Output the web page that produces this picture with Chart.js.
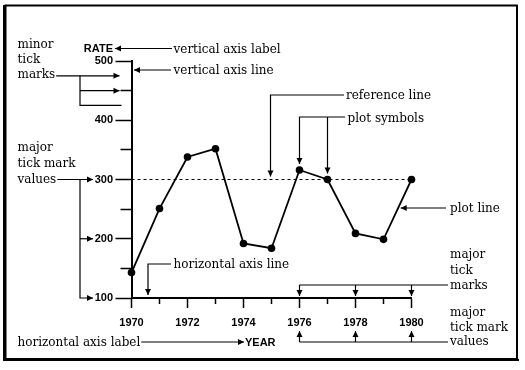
<!DOCTYPE html>
<html>
<head>
<meta charset="utf-8">
<title>parts of a graph</title>
<script src="https://cdn.jsdelivr.net/npm/chart.js@4.4.0/dist/chart.umd.min.js"></script>
<style>
  body { margin: 0; background: #fff; }
</style>
</head>
<body>
<canvas id="myChart" width="525" height="370"></canvas>
<script>
// data
var years = [1970, 1971, 1972, 1973, 1974, 1975, 1976, 1977, 1978, 1979, 1980];
var rates = [143, 251, 338, 352, 192, 184, 316, 300, 209, 199, 300];
var refValue = 300;
var yMajor = [100, 200, 300, 400, 500];
var xMajor = [1970, 1972, 1974, 1976, 1978, 1980];

var serif = '12px "DejaVu Serif"';
var boldSans = 'bold 11px "Liberation Sans"';

function arrowTo(c, pts, head) {
  c.beginPath();
  c.moveTo(pts[0][0], pts[0][1]);
  for (var i = 1; i < pts.length; i++) c.lineTo(pts[i][0], pts[i][1]);
  c.stroke();
  if (!head) return;
  var a = pts[pts.length - 2], b = pts[pts.length - 1];
  var ang = Math.atan2(b[1] - a[1], b[0] - a[0]);
  c.beginPath();
  c.moveTo(b[0], b[1]);
  c.lineTo(b[0] - 6 * Math.cos(ang) + 3 * Math.sin(ang), b[1] - 6 * Math.sin(ang) - 3 * Math.cos(ang));
  c.lineTo(b[0] - 6 * Math.cos(ang) - 3 * Math.sin(ang), b[1] - 6 * Math.sin(ang) + 3 * Math.cos(ang));
  c.closePath();
  c.fill();
}

function txt(c, s, x, y) {
  c.fillText(s, x, y);
  return x + c.measureText(s).width;
}

var annotate = {
  id: 'annotate',
  afterDraw: function(chart) {
    var c = chart.ctx, xs = chart.scales.x, ys = chart.scales.y;
    var X = function(v) { return xs.getPixelForValue(v); };
    var Y = function(v) { return ys.getPixelForValue(v); };
    c.save();
    c.strokeStyle = '#000';
    c.fillStyle = '#000';

    // frame
    c.lineWidth = 2;
    c.strokeRect(5.5, 5.5, 511.5, 353.5);
    c.fillRect(3, 5, 2, 356);
    c.fillRect(3, 359, 516, 2);

    c.lineWidth = 1.2;
    c.font = serif;
    c.textAlign = 'left';
    c.textBaseline = 'alphabetic';

    // minor tick marks
    txt(c, 'minor', 17.5, 47.5);
    txt(c, 'tick', 17.5, 62.5);
    var e = txt(c, 'marks', 17.5, 77.5);
    arrowTo(c, [[e + 1, Y(475)], [X(1970) - 12, Y(475)]], true);
    arrowTo(c, [[80, Y(475)], [80, Y(425)], [X(1970) - 10, Y(425)]], false);
    arrowTo(c, [[80, Y(450)], [X(1970) - 12, Y(450)]], true);

    // major tick mark values (left)
    txt(c, 'major', 17.5, 151);
    txt(c, 'tick mark', 17.5, 167);
    e = txt(c, 'values', 17.5, 183);
    arrowTo(c, [[e + 1, Y(300)], [93, Y(300)]], true);
    arrowTo(c, [[80, Y(300)], [80, Y(100)], [93, Y(100)]], true);
    arrowTo(c, [[80, Y(200)], [93, Y(200)]], true);

    // vertical axis label / line
    c.font = boldSans;
    c.textAlign = 'right';
    c.fillText('RATE', 113, 52);
    c.textAlign = 'left';
    c.font = serif;
    arrowTo(c, [[172, 48.5], [115, 48.5]], true);
    txt(c, 'vertical axis label', 173.5, 52.5);
    arrowTo(c, [[171, 70], [X(1970) + 2.5, 70]], true);
    txt(c, 'vertical axis line', 173.5, 74);

    // reference line
    txt(c, 'reference line', 346, 99);
    arrowTo(c, [[344, 95], [X(1975) - 1, 95], [X(1975) - 1, Y(refValue) - 3]], true);

    // plot symbols
    txt(c, 'plot symbols', 347.5, 121.5);
    arrowTo(c, [[345, 117], [X(1976), 117], [X(1976), Y(rates[6]) - 6]], true);
    arrowTo(c, [[X(1977), 117], [X(1977), Y(rates[7]) - 6]], true);

    // plot line
    var x1 = X(years[9]), y1 = Y(rates[9]), x2 = X(years[10]), y2 = Y(rates[10]);
    var t = (208 - y1) / (y2 - y1);
    txt(c, 'plot line', 450, 211.5);
    arrowTo(c, [[446, 208], [x1 + t * (x2 - x1) + 2.5, 208]], true);

    // major tick marks (right)
    txt(c, 'major', 450, 257.5);
    txt(c, 'tick', 450, 273.5);
    txt(c, 'marks', 450, 289);
    arrowTo(c, [[448, 285], [X(1976), 285]], false);
    [1976, 1978, 1980].forEach(function(v) {
      arrowTo(c, [[X(v), 285], [X(v), Y(100) - 2]], true);
    });

    // major tick mark values (right)
    txt(c, 'major', 450, 315.5);
    txt(c, 'tick mark', 450, 331);
    txt(c, 'values', 450, 345);
    arrowTo(c, [[448, 342], [X(1976), 342]], false);
    [1976, 1978, 1980].forEach(function(v) {
      arrowTo(c, [[X(v), 342], [X(v), 331]], true);
    });

    // horizontal axis line / label
    txt(c, 'horizontal axis line', 173.5, 268);
    arrowTo(c, [[171, 264], [148, 264], [148, Y(100) - 3]], true);
    e = txt(c, 'horizontal axis label', 17.5, 346);
    arrowTo(c, [[e + 1, 342], [244, 342]], true);
    c.font = boldSans;
    txt(c, 'YEAR', 245, 346);

    c.restore();
  }
};

var ctx = document.getElementById('myChart').getContext('2d');
var chart = new Chart(ctx, {
  type: 'line',
  data: {
    datasets: [
      {
        label: 'RATE',
        data: years.map(function(y, i) { return {x: y, y: rates[i]}; }),
        borderColor: '#000',
        borderWidth: 1.8,
        pointRadius: 3.8,
        pointBackgroundColor: '#000',
        pointBorderWidth: 0,
        tension: 0,
        clip: false
      },
      {
        label: 'reference',
        data: [{x: years[0], y: refValue}, {x: years[years.length - 1], y: refValue}],
        borderColor: '#000',
        borderWidth: 1,
        borderDash: [3, 3],
        pointRadius: 0
      }
    ]
  },
  options: {
    responsive: false,
    animation: false,
    devicePixelRatio: 1,
    layout: { padding: { left: 71.5, right: 113.5, top: 61, bottom: 20 } },
    plugins: { legend: { display: false }, tooltip: { enabled: false } },
    scales: {
      x: {
        type: 'linear',
        min: 1970,
        max: 1980,
        afterFit: function(s) { s.height = 52; },
        ticks: {
          stepSize: 1,
          autoSkip: false,
          maxRotation: 0,
          padding: 8,
          color: '#000',
          font: { family: 'Liberation Sans', size: 11, weight: 'bold' },
          callback: function(v) { return xMajor.indexOf(v) >= 0 ? String(v) : ''; }
        },
        grid: {
          drawOnChartArea: false,
          tickLength: 10,
          tickColor: '#000',
          tickWidth: 1.5,
          tickBorderDash: function(c) { return c.tick && xMajor.indexOf(c.tick.value) >= 0 ? [] : [5, 50]; }
        },
        border: { color: '#000', width: 2 }
      },
      y: {
        min: 100,
        max: 500,
        afterFit: function(s) { s.width = 60; },
        ticks: {
          stepSize: 25,
          padding: 2.5,
          color: '#000',
          font: { family: 'Liberation Sans', size: 11, weight: 'bold' },
          callback: function(v) { return yMajor.indexOf(v) >= 0 ? String(v) : ''; }
        },
        grid: {
          drawOnChartArea: false,
          tickLength: 16,
          tickColor: '#000',
          tickWidth: 1.5,
          // minor ticks: skip the outer 5px so only the 11px next to the axis shows
          tickBorderDash: function(c) { return c.tick && yMajor.indexOf(c.tick.value) >= 0 ? [] : [0, 5, 11, 50]; }
        },
        border: { color: '#000', width: 2 }
      }
    }
  },
  plugins: [annotate]
});
</script>
</body>
</html>
